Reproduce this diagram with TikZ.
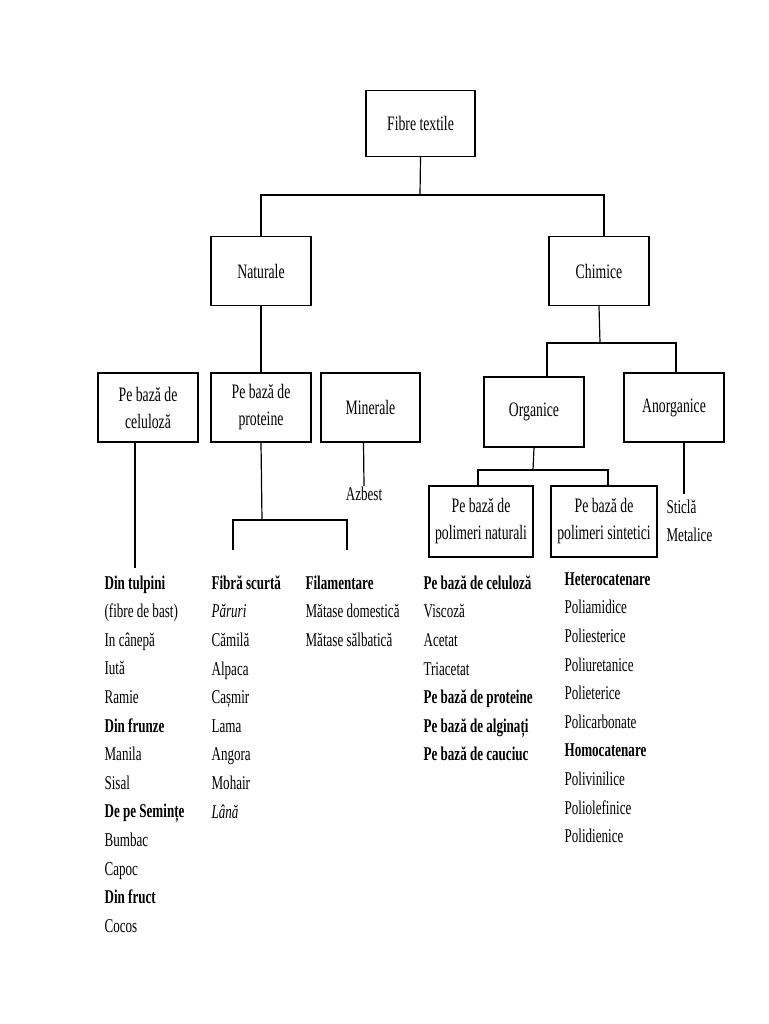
\documentclass[tikz,border=0pt]{standalone}
\usepackage{fontspec}
\setmainfont{Liberation Serif}[FakeStretch=0.67]
\usetikzlibrary{positioning}

\begin{document}
\begin{tikzpicture}[x=1pt, y=-1pt, line width=1.2pt,
    box/.style={draw, line width=1.5pt, minimum width=100pt, minimum height=69pt,
      align=center, inner sep=2pt, font=\fontsize{20.5}{27}\selectfont},
    lista/.style={anchor=north west, align=left, inner sep=0pt,
      font=\fontsize{19.5}{28.6}\selectfont},
    frunza/.style={inner sep=0pt, font=\fontsize{19.5}{28.6}\selectfont}]
    \useasboundingbox (0,0) rectangle (768,1024);
    \node[box, minimum width=109pt, minimum height=66pt] (fibre) at (420.5,123.5) {Fibre textile};
    \node[box] (nat) at (261,271) {Naturale};
    \node[box] (chim) at (599,271) {Chimice};
    \node[box] (cel) at (148,407.5) {Pe bază de\\celuloză};
    \node[box] (prot) at (261,407.5) {Pe bază de\\proteine};
    \node[box, minimum width=99pt] (min) at (370.5,407.5) {Minerale};
    \node[box, minimum height=70pt] (org) at (534,412) {Organice};
    \node[box] (anorg) at (674,407.5) {Anorganice};
    \node[box, minimum width=104pt, minimum height=71pt] (pnat) at (481,521.5) {Pe bază de\\polimeri naturali};
    \node[box, minimum width=106pt, minimum height=71pt] (psint) at (604,521.5) {Pe bază de\\polimeri sintetici};
    \node[frunza, anchor=north] (azbest) at (364,486) {Azbest};
    \node[frunza, anchor=base west] (sticla) at (666,513) {Sticlă};
    \node[frunza, anchor=base west] (metal) at (666,541.6) {Metalice};

    \coordinate (j1) at (420,195);
    \coordinate (j2) at (600,343);
    \coordinate (j3) at (533,470);
    \coordinate (j4) at (262,520);
    \coordinate (e1) at (135,568);
    \coordinate (e2) at (233,550);
    \coordinate (e3) at (347,550);
    \coordinate (e4) at (684,494);
    \draw (fibre.south) -- (j1);
    \draw (j1) -| (nat.north);
    \draw (j1) -| ([xshift=5pt]chim.north);
    \draw (nat.south) -- (prot.north);
    \draw (chim.south) -- (j2);
    \draw (j2) -| ([xshift=13pt]org.north);
    \draw (j2) -| ([xshift=2pt]anorg.north);
    \draw (org.south) -- (j3);
    \draw (j3) -| ([xshift=-3pt]pnat.north);
    \draw (j3) -| ([xshift=4pt]psint.north);
    \draw ([xshift=-13pt]cel.south) -- (e1);
    \draw (prot.south) -- (j4);
    \draw (e2) |- (j4) -| (e3);
    \draw ([xshift=-7pt]min.south) -- (azbest.north);
    \draw ([xshift=10pt]anorg.south) -- (e4);

    \node[lista] (tulpini) at (104,575) {\textbf{Din tulpini}\\(fibre de bast)\\In cânepă\\Iută\\Ramie\\
      \textbf{Din frunze}\\Manila\\Sisal\\\textbf{De pe Semințe}\\Bumbac\\Capoc\\\textbf{Din fruct}\\Cocos};
    \node[lista] (scurta) at (211,575) {\textbf{Fibră scurtă}\\\textit{Păruri}\\Cămilă\\Alpaca\\Cașmir\\
      Lama\\Angora\\Mohair\\\textit{Lână}};
    \node[lista] (filam) at (305,575) {\textbf{Filamentare}\\Mătase domestică\\Mătase sălbatică};
    \node[lista] (natur) at (423,575) {\textbf{Pe bază de celuloză}\\Viscoză\\Acetat\\Triacetat\\
      \textbf{Pe bază de proteine}\\\textbf{Pe bază de alginați}\\\textbf{Pe bază de cauciuc}};
    \node[lista] (sint) at (564,572) {\textbf{Heterocatenare}\\Poliamidice\\Poliesterice\\Poliuretanice\\
      Polieterice\\Policarbonate\\\textbf{Homocatenare}\\Polivinilice\\Poliolefinice\\Polidienice};
\end{tikzpicture}
\end{document}
